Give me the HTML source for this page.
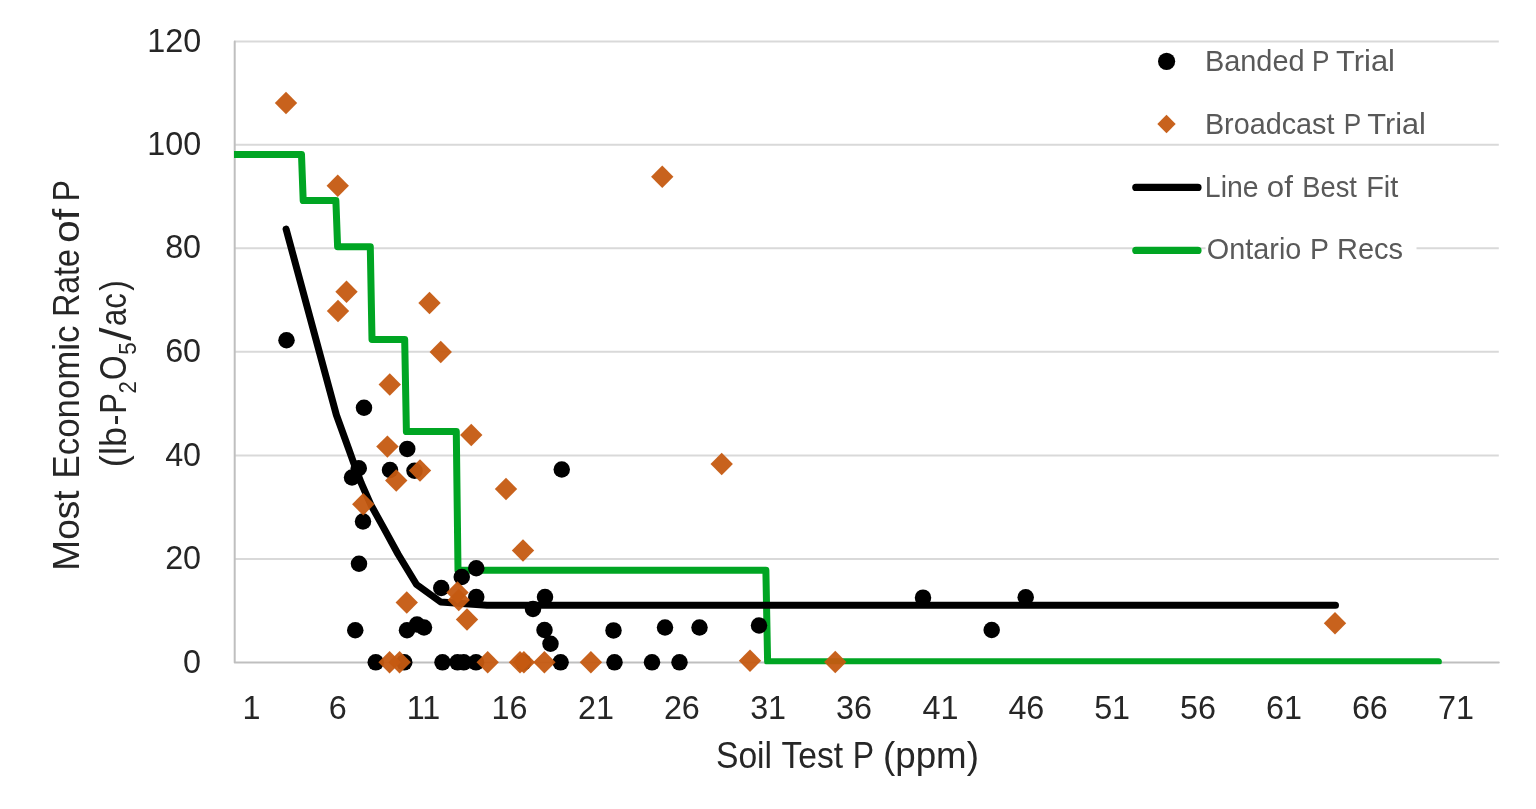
<!DOCTYPE html>
<html lang="en"><head><meta charset="utf-8"><title>Most Economic Rate of P vs Soil Test P</title>
<style>
html,body{margin:0;padding:0;background:#fff;}
body{width:1536px;height:809px;overflow:hidden;}
svg{display:block;}
text{font-family:"Liberation Sans",sans-serif;}
</style></head><body>
<svg width="1536" height="809" viewBox="0 0 1536 809">
<rect width="1536" height="809" fill="#ffffff"/>

<g stroke="#d9d9d9" stroke-width="2" fill="none">
<line x1="234.5" y1="41.56" x2="1498.8" y2="41.56"/>
<line x1="234.5" y1="144.63" x2="1498.8" y2="144.63"/>
<line x1="234.5" y1="248.26" x2="1498.8" y2="248.26"/>
<line x1="234.5" y1="351.77" x2="1498.8" y2="351.77"/>
<line x1="234.5" y1="455.5" x2="1498.8" y2="455.5"/>
<line x1="234.5" y1="559.0" x2="1498.8" y2="559.0"/>
</g>
<polyline points="234.7,41.56 234.7,662.55 1498.8,662.55" fill="none" stroke="#bfbfbf" stroke-width="2" stroke-linejoin="round" stroke-linecap="round"/>
<clipPath id="pc"><rect x="234.0" y="0" width="1400" height="664.3"/></clipPath>
<polyline clip-path="url(#pc)" points="234.40,154.49 301.48,154.49 303.20,200.58 335.88,200.58 337.60,246.68 370.28,246.68 372.00,339.38 404.68,339.38 406.40,431.57 456.28,431.57 458.00,570.36 765.88,570.36 767.60,661.72 1438.40,661.72" fill="none" stroke="#00a523" stroke-width="7.0" stroke-linejoin="round" stroke-linecap="round"/>
<polyline points="286.10,229.10 336.40,415.00 348.80,449.30 354.10,464.20 361.20,483.00 370.80,504.70 384.50,529.40 398.10,554.20 416.50,584.50 440.70,602.00 486.90,605.20 1335.50,605.20" fill="none" stroke="#000" stroke-width="7.0" stroke-linejoin="round" stroke-linecap="round"/>
<g fill="#000">
<circle cx="286.5" cy="340.25" r="8.25"/>
<circle cx="364" cy="407.75" r="8.25"/>
<circle cx="407.25" cy="448.9" r="8.25"/>
<circle cx="358.75" cy="468.25" r="8.25"/>
<circle cx="352" cy="477.5" r="8.25"/>
<circle cx="390" cy="470" r="8.25"/>
<circle cx="414.5" cy="470.75" r="8.25"/>
<circle cx="561.75" cy="469.5" r="8.25"/>
<circle cx="363" cy="521.5" r="8.25"/>
<circle cx="359" cy="563.75" r="8.25"/>
<circle cx="476.25" cy="568.25" r="8.25"/>
<circle cx="461.75" cy="577" r="8.25"/>
<circle cx="441.25" cy="588" r="8.25"/>
<circle cx="476.25" cy="597" r="8.25"/>
<circle cx="545" cy="597" r="8.25"/>
<circle cx="533" cy="609" r="8.25"/>
<circle cx="355.25" cy="630.25" r="8.25"/>
<circle cx="407" cy="630.25" r="8.25"/>
<circle cx="417" cy="624.5" r="8.25"/>
<circle cx="424" cy="627.5" r="8.25"/>
<circle cx="544.5" cy="630" r="8.25"/>
<circle cx="550.5" cy="643.75" r="8.25"/>
<circle cx="613.5" cy="630.4" r="8.25"/>
<circle cx="665" cy="627.5" r="8.25"/>
<circle cx="699.5" cy="627.5" r="8.25"/>
<circle cx="759" cy="625.5" r="8.25"/>
<circle cx="923" cy="597.7" r="8.25"/>
<circle cx="1025.7" cy="597.3" r="8.25"/>
<circle cx="991.7" cy="630" r="8.25"/>
<circle cx="375.75" cy="662.3" r="8.25"/>
<circle cx="404.25" cy="662.3" r="8.25"/>
<circle cx="442.5" cy="662.3" r="8.25"/>
<circle cx="457.5" cy="662.3" r="8.25"/>
<circle cx="463.75" cy="662.3" r="8.25"/>
<circle cx="476.0" cy="662.3" r="8.25"/>
<circle cx="523.3" cy="662.3" r="8.25"/>
<circle cx="560.6" cy="662.3" r="8.25"/>
<circle cx="614.5" cy="662.3" r="8.25"/>
<circle cx="652" cy="662.3" r="8.25"/>
<circle cx="679.5" cy="662.3" r="8.25"/>
</g>
<g fill="#c55a11" fill-opacity="0.95">
<path d="M274.80 103.00L286.00 91.80L297.20 103.00L286.00 114.20Z"/>
<path d="M326.55 185.75L337.75 174.55L348.95 185.75L337.75 196.95Z"/>
<path d="M335.30 291.75L346.50 280.55L357.70 291.75L346.50 302.95Z"/>
<path d="M326.80 311.00L338.00 299.80L349.20 311.00L338.00 322.20Z"/>
<path d="M418.30 303.00L429.50 291.80L440.70 303.00L429.50 314.20Z"/>
<path d="M429.55 352.00L440.75 340.80L451.95 352.00L440.75 363.20Z"/>
<path d="M378.55 384.50L389.75 373.30L400.95 384.50L389.75 395.70Z"/>
<path d="M460.05 435.00L471.25 423.80L482.45 435.00L471.25 446.20Z"/>
<path d="M376.20 446.60L387.40 435.40L398.60 446.60L387.40 457.80Z"/>
<path d="M408.80 470.50L420.00 459.30L431.20 470.50L420.00 481.70Z"/>
<path d="M385.05 480.50L396.25 469.30L407.45 480.50L396.25 491.70Z"/>
<path d="M352.05 504.25L363.25 493.05L374.45 504.25L363.25 515.45Z"/>
<path d="M494.80 489.00L506.00 477.80L517.20 489.00L506.00 500.20Z"/>
<path d="M511.80 550.50L523.00 539.30L534.20 550.50L523.00 561.70Z"/>
<path d="M395.55 602.50L406.75 591.30L417.95 602.50L406.75 613.70Z"/>
<path d="M446.30 592.50L457.50 581.30L468.70 592.50L457.50 603.70Z"/>
<path d="M447.55 600.00L458.75 588.80L469.95 600.00L458.75 611.20Z"/>
<path d="M455.80 619.50L467.00 608.30L478.20 619.50L467.00 630.70Z"/>
<path d="M651.05 176.75L662.25 165.55L673.45 176.75L662.25 187.95Z"/>
<path d="M710.50 464.00L721.70 452.80L732.90 464.00L721.70 475.20Z"/>
<path d="M1323.80 623.25L1335.00 612.05L1346.20 623.25L1335.00 634.45Z"/>
<path d="M738.80 660.75L750.00 649.55L761.20 660.75L750.00 671.95Z"/>
<path d="M824.05 662.00L835.25 650.80L846.45 662.00L835.25 673.20Z"/>
<path d="M378.40 662.30L389.60 651.10L400.80 662.30L389.60 673.50Z"/>
<path d="M388.40 662.30L399.60 651.10L410.80 662.30L399.60 673.50Z"/>
<path d="M476.50 662.30L487.70 651.10L498.90 662.30L487.70 673.50Z"/>
<path d="M508.80 662.30L520.00 651.10L531.20 662.30L520.00 673.50Z"/>
<path d="M512.70 662.30L523.90 651.10L535.10 662.30L523.90 673.50Z"/>
<path d="M533.20 662.30L544.40 651.10L555.60 662.30L544.40 673.50Z"/>
<path d="M579.70 662.30L590.90 651.10L602.10 662.30L590.90 673.50Z"/>
</g>
<text transform="translate(147.21,51.76) scale(0.965,1)" font-size="33.5" fill="#262626">120</text>
<text transform="translate(147.21,154.83) scale(0.965,1)" font-size="33.5" fill="#262626">100</text>
<text transform="translate(165.15,258.46) scale(0.965,1)" font-size="33.5" fill="#262626">80</text>
<text transform="translate(165.15,361.97) scale(0.965,1)" font-size="33.5" fill="#262626">60</text>
<text transform="translate(165.15,465.70) scale(0.965,1)" font-size="33.5" fill="#262626">40</text>
<text transform="translate(165.15,569.20) scale(0.965,1)" font-size="33.5" fill="#262626">20</text>
<text transform="translate(183.09,672.75) scale(0.965,1)" font-size="33.5" fill="#262626">0</text>
<text transform="translate(242.54,719.30) scale(0.965,1)" font-size="33.5" fill="#262626">1</text>
<text transform="translate(328.87,719.30) scale(0.965,1)" font-size="33.5" fill="#262626">6</text>
<text transform="translate(406.79,719.30) scale(0.965,1)" font-size="33.5" fill="#262626">11</text>
<text transform="translate(491.49,719.30) scale(0.965,1)" font-size="33.5" fill="#262626">16</text>
<text transform="translate(577.98,719.30) scale(0.965,1)" font-size="33.5" fill="#262626">21</text>
<text transform="translate(663.90,719.30) scale(0.965,1)" font-size="33.5" fill="#262626">26</text>
<text transform="translate(750.14,719.30) scale(0.965,1)" font-size="33.5" fill="#262626">31</text>
<text transform="translate(836.06,719.30) scale(0.965,1)" font-size="33.5" fill="#262626">36</text>
<text transform="translate(922.46,719.30) scale(0.965,1)" font-size="33.5" fill="#262626">41</text>
<text transform="translate(1008.38,719.30) scale(0.965,1)" font-size="33.5" fill="#262626">46</text>
<text transform="translate(1094.14,719.30) scale(0.965,1)" font-size="33.5" fill="#262626">51</text>
<text transform="translate(1180.06,719.30) scale(0.965,1)" font-size="33.5" fill="#262626">56</text>
<text transform="translate(1265.98,719.30) scale(0.965,1)" font-size="33.5" fill="#262626">61</text>
<text transform="translate(1351.90,719.30) scale(0.965,1)" font-size="33.5" fill="#262626">66</text>
<text transform="translate(1437.98,719.30) scale(0.965,1)" font-size="33.5" fill="#262626">71</text>
<text y="767.60" font-size="36.63" fill="#262626"><tspan x="715.99" textLength="56.09" lengthAdjust="spacingAndGlyphs">Soil</tspan> <tspan x="781.43" textLength="61.57" lengthAdjust="spacingAndGlyphs">Test</tspan> <tspan x="852.83" textLength="20.77" lengthAdjust="spacingAndGlyphs">P</tspan> <tspan x="883.00" textLength="95.96" lengthAdjust="spacingAndGlyphs">(ppm)</tspan></text>
<text transform="translate(78.70,0) rotate(-90)" font-size="36.63" fill="#262626"><tspan x="-570.67" y="0.00" textLength="80.33" lengthAdjust="spacingAndGlyphs">Most</tspan> <tspan x="-478.39" y="0.00" textLength="152.88" lengthAdjust="spacingAndGlyphs">Economic</tspan> <tspan x="-316.86" y="0.00" textLength="67.68" lengthAdjust="spacingAndGlyphs">Rate</tspan> <tspan x="-242.94" y="0.00" textLength="34.20" lengthAdjust="spacingAndGlyphs">of</tspan> <tspan x="-201.36" y="0.00" textLength="21.32" lengthAdjust="spacingAndGlyphs">P</tspan></text>
<text transform="translate(126.30,0) rotate(-90)" font-size="36.63" fill="#262626"><tspan x="-467.17" y="0.00" textLength="40.16" lengthAdjust="spacingAndGlyphs">(lb</tspan><tspan x="-425.49" y="0.00" textLength="11.01" lengthAdjust="spacingAndGlyphs">-</tspan><tspan x="-413.82" y="0.00" textLength="20.77" lengthAdjust="spacingAndGlyphs">P</tspan><tspan x="-393.51" y="9.30" textLength="12.35" lengthAdjust="spacingAndGlyphs" font-size="23.70">2</tspan><tspan x="-380.03" y="0.00" textLength="24.64" lengthAdjust="spacingAndGlyphs">O</tspan><tspan x="-354.70" y="9.30" textLength="12.53" lengthAdjust="spacingAndGlyphs" font-size="23.70">5</tspan><tspan x="-340.80" y="4.90" textLength="13.20" lengthAdjust="spacingAndGlyphs" font-size="44.69">/</tspan><tspan x="-325.96" y="0.00" textLength="32.88" lengthAdjust="spacingAndGlyphs">ac</tspan><tspan x="-290.83" y="0.00" textLength="10.37" lengthAdjust="spacingAndGlyphs">)</tspan></text>
<rect x="1205.5" y="228" width="211" height="42" fill="#fff"/>
<circle cx="1166.6" cy="61.3" r="8.6" fill="#000"/>
<path d="M1157.3 124.0L1166.5 114.8L1175.7 124.0L1166.5 133.2Z" fill="#c55a11" fill-opacity="0.95"/>
<line x1="1135.9" y1="187.4" x2="1197.9" y2="187.4" stroke="#000" stroke-width="7.4" stroke-linecap="round"/>
<line x1="1135.9" y1="250.4" x2="1197.9" y2="250.4" stroke="#00a523" stroke-width="7.4" stroke-linecap="round"/>
<text y="70.60" font-size="29.94" fill="#595959"><tspan x="1204.88" textLength="99.78" lengthAdjust="spacingAndGlyphs">Banded</tspan> <tspan x="1312.11" textLength="16.98" lengthAdjust="spacingAndGlyphs">P</tspan> <tspan x="1336.08" textLength="58.90" lengthAdjust="spacingAndGlyphs">Trial</tspan></text>
<text y="134.00" font-size="29.94" fill="#595959"><tspan x="1204.90" textLength="129.62" lengthAdjust="spacingAndGlyphs">Broadcast</tspan> <tspan x="1343.76" textLength="16.98" lengthAdjust="spacingAndGlyphs">P</tspan> <tspan x="1367.29" textLength="58.58" lengthAdjust="spacingAndGlyphs">Trial</tspan></text>
<text y="197.00" font-size="29.94" fill="#595959"><tspan x="1204.82" textLength="53.78" lengthAdjust="spacingAndGlyphs">Line</tspan> <tspan x="1266.85" textLength="26.12" lengthAdjust="spacingAndGlyphs">of</tspan> <tspan x="1302.32" textLength="54.65" lengthAdjust="spacingAndGlyphs">Best</tspan> <tspan x="1366.18" textLength="32.19" lengthAdjust="spacingAndGlyphs">Fit</tspan></text>
<text y="259.30" font-size="29.36" fill="#595959"><tspan x="1206.80" textLength="94.53" lengthAdjust="spacingAndGlyphs">Ontario</tspan> <tspan x="1310.09" textLength="18.45" lengthAdjust="spacingAndGlyphs">P</tspan> <tspan x="1336.98" textLength="66.09" lengthAdjust="spacingAndGlyphs">Recs</tspan></text>
</svg></body></html>
